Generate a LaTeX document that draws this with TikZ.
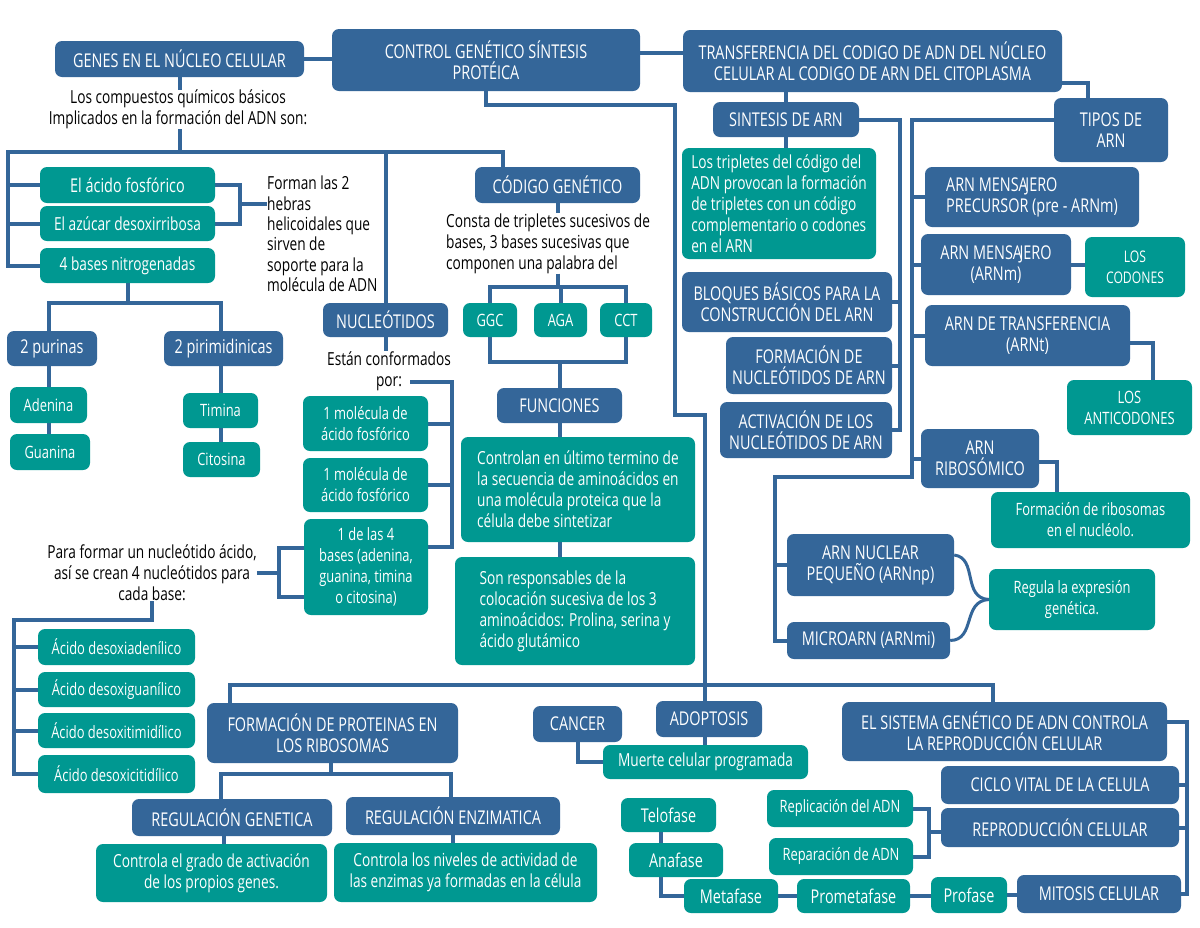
\documentclass[tikz,border=0pt]{standalone}
\usepackage{fontspec}
\setmainfont{Open Sans}[FakeStretch=0.76]
\usetikzlibrary{calc}
\definecolor{cblue}{RGB}{52,102,153}
\definecolor{cteal}{RGB}{0,152,145}
\pgfdeclarelayer{bg}
\pgfsetlayers{bg,main}
\newcommand\fs[1]{\fontsize{#1}{21}\selectfont}
\newcommand\bx[7]{\node[#2,minimum width={#5-#3},minimum height={#6-#4}] (#1) at ({(#3+#5)/2},{(#4+#6)/2}) {#7};}
\newcommand\mensajero{MENSA\kern-2.5pt JERO}
\tikzset{
  bb/.style={fill=cblue, rounded corners=7pt, text=white, align=center, inner sep=0pt, font=\fs{19}},
  tb/.style={fill=cteal, rounded corners=7pt, text=white, align=center, inner sep=0pt, font=\fs{18}},
  plain/.style={text=black, align=center, inner sep=0pt, font=\fs{18}},
  conn/.style={draw=cblue, line width=4pt, line join=miter}
}
\begin{document}
\begin{tikzpicture}[x=1pt,y=-1pt]
\useasboundingbox (0,0) rectangle (1200,927);

% ---------- blue boxes
\bx{genes}{bb}{55}{41}{304}{77}{GENES EN EL NÚCLEO CELULAR}
\bx{control}{bb}{332}{29}{640}{91}{CONTROL GENÉTICO SÍNTESIS\\PROTÉICA}
\bx{transf}{bb}{683}{30}{1062}{92}{TRANSFERENCIA DEL CODIGO DE ADN DEL NÚCLEO\\CELULAR AL CODIGO DE ARN DEL CITOPLASMA}
\bx{purinas}{bb}{7}{331}{97}{366}{2 purinas}
\bx{pirim}{bb}{164}{331}{283}{366}{2 pirimidinicas}
\bx{nucleo}{bb}{323}{303}{448}{337}{NUCLEÓTIDOS}
\bx{codigo}{bb}{475}{167}{640}{203}{CÓDIGO GENÉTICO}
\bx{funciones}{bb}{497}{388}{622}{423}{FUNCIONES}
\bx{sintesis}{bb}{713}{102}{859}{137}{SINTESIS DE ARN}
\bx{bloq}{bb}{682}{272}{892}{332}{BLOQUES BÁSICOS PARA LA\\CONSTRUCCIÓN DEL ARN}
\bx{formn}{bb}{726}{337}{892}{394}{FORMACIÓN DE\\NUCLEÓTIDOS DE ARN}
\bx{activ}{bb}{720}{402}{892}{458}{ACTIVACIÓN DE LOS\\NUCLEÓTIDOS DE ARN}
\bx{tipos}{bb}{1054}{98}{1168}{162}{TIPOS DE\\ARN}
\bx{prec}{bb,align=left}{925}{167}{1139}{227}{ARN \mensajero\\PRECURSOR (pre - ARNm)}
\bx{mens}{bb}{921}{234}{1071}{295}{ARN \mensajero\\(ARNm)}
\bx{trans}{bb}{925}{305}{1130}{366}{ARN DE TRANSFERENCIA\\(ARNt)}
\bx{ribo}{bb}{921}{429}{1039}{488}{ARN\\RIBOSÓMICO}
\bx{narn}{bb}{787}{534}{954}{596}{ARN NUCLEAR\\PEQUEÑO (ARNnp)}
\bx{micro}{bb}{787}{622}{950}{659}{MICROARN (ARNmi)}
\bx{formprot}{bb}{207}{703}{458}{763}{FORMACIÓN DE PROTEINAS EN\\LOS RIBOSOMAS}
\bx{regG}{bb}{132}{799}{332}{836}{REGULACIÓN GENETICA}
\bx{regE}{bb}{346}{797}{560}{835}{REGULACIÓN ENZIMATICA}
\bx{cancer}{bb}{533}{706}{622}{742}{CANCER}
\bx{adopt}{bb}{656}{701}{762}{737}{ADOPTOSIS}
\bx{sistema}{bb}{842}{702}{1167}{761}{EL SISTEMA GENÉTICO DE ADN CONTROLA\\LA REPRODUCCIÓN CELULAR}
\bx{ciclo}{bb}{941}{766}{1179}{804}{CICLO VITAL DE LA CELULA}
\bx{reprod}{bb}{941}{808}{1179}{847}{REPRODUCCIÓN CELULAR}
\bx{mitosis}{bb}{1017}{875}{1181}{913}{MITOSIS CELULAR}

% ---------- teal boxes
\bx{acido}{tb,font=\fs{19}}{40}{167}{215}{203}{El ácido fosfórico}
\bx{azucar}{tb}{40}{206}{215}{241}{El azúcar desoxirribosa}
\bx{bases4}{tb}{40}{248}{215}{283}{4 bases nitrogenadas}
\bx{adenina}{tb,font=\fs{17}}{10}{387}{87}{423}{Adenina}
\bx{guanina}{tb,font=\fs{17}}{10}{434}{90}{470}{Guanina}
\bx{timina}{tb,font=\fs{17}}{183}{393}{258}{428}{Timina}
\bx{citosina}{tb,font=\fs{17}}{183}{442}{260}{477}{Citosina}
\bx{mol1}{tb,font=\fs{17}}{303}{396}{428}{451}{1 molécula de\\ácido fosfórico}
\bx{mol2}{tb,font=\fs{17}}{303}{458}{428}{512}{1 molécula de\\ácido fosfórico}
\bx{bases1}{tb,font=\fs{17}}{304}{519}{428}{615}{1 de las 4\\bases (adenina,\\guanina, timina\\o citosina)}
\bx{ada}{tb,font=\fs{17}}{38}{629}{195}{665}{Ácido desoxiadenílico}
\bx{adg}{tb,font=\fs{17}}{38}{672}{195}{707}{Ácido desoxiguanílico}
\bx{adt}{tb,font=\fs{17}}{38}{713}{195}{748}{Ácido desoxitimidílico}
\bx{adci}{tb,font=\fs{17}}{38}{755}{195}{793}{Ácido desoxicitidílico}
\bx{ggc}{tb,font=\fs{17}}{463}{303}{517}{337}{GGC}
\bx{aga}{tb,font=\fs{17}}{534}{303}{587}{337}{AGA}
\bx{cct}{tb,font=\fs{17}}{600}{303}{652}{337}{CCT}
\bx{controlan}{tb,align=left}{461}{437}{695}{542}{Controlan en último termino de\\la secuencia de aminoácidos en\\una molécula proteica que la\\célula debe sintetizar}
\bx{son}{tb,align=left}{455}{557}{695}{665}{Son responsables de la\\colocación sucesiva de los 3\\aminoácidos: Prolina, serina y\\ácido glutámico}
\bx{tripl}{tb,align=left}{682}{148}{876}{259}{Los tripletes del código del\\ADN provocan la formación\\de tripletes con un código\\complementario o codones\\en el ARN}
\bx{codones}{tb,font=\fs{16}}{1085}{237}{1185}{297}{LOS\\CODONES}
\bx{anticod}{tb,font=\fs{17}}{1067}{380}{1192}{435}{LOS\\ANTICODONES}
\bx{formrib}{tb,font=\fs{17}}{991}{492}{1190}{548}{Formación de ribosomas\\en el nucléolo.}
\bx{regula}{tb,font=\fs{17}}{989}{569}{1155}{630}{Regula la expresión\\genética.}
\bx{ctlG}{tb}{96}{844}{327}{902}{Controla el grado de activación\\de los propios genes.}
\bx{ctlE}{tb}{334}{843}{597}{902}{Controla los niveles de actividad de\\las enzimas ya formadas en la célula}
\bx{muerte}{tb}{603}{745}{808}{779}{Muerte celular programada}
\bx{replic}{tb,font=\fs{17}}{767}{790}{913}{827}{Replicación del ADN}
\bx{repar}{tb,font=\fs{17}}{769}{838}{913}{875}{Reparación de ADN}
\bx{telo}{tb,font=\fs{19}}{621}{798}{716}{832}{Telofase}
\bx{ana}{tb,font=\fs{19}}{629}{843}{723}{877}{Anafase}
\bx{meta}{tb,font=\fs{19}}{684}{879}{778}{913}{Metafase}
\bx{prometa}{tb,font=\fs{19}}{797}{879}{910}{913}{Prometafase}
\bx{profase}{tb,font=\fs{19}}{931}{877}{1007}{913}{Profase}

% ---------- plain texts
\node[plain] (compuestos) at (178,109.5) {Los compuestos químicos básicos\\Implicados en la formación del ADN son:};
\node[plain, anchor=west, align=left, font=\fontsize{18}{20.4}\selectfont] (forman) at (267,234) {Forman las 2\\hebras\\helicoidales que\\sirven de\\soporte para la\\molécula de ADN};
\node[plain] (estan) at (389,371) {Están conformados\\por:};
\node[plain] (para) at (152,573) {Para formar un nucleótido ácido,\\así se crean 4 nucleótidos para\\cada base:};
\node[plain, anchor=west, align=left] (consta) at (446,243.5) {Consta de tripletes sucesivos de\\bases, 3 bases sucesivas que\\componen una palabra del};

% ---------- connectors
\begin{pgfonlayer}{bg}
\fill[white] (0,0) rectangle (1200,927);
\draw[conn] (genes.east) -- (control.west |- genes.east);
\draw[conn] (control.east |- 0,53) -- (transf.west |- 0,53);
\draw[conn] (genes.south) -- (genes.south |- compuestos.north);
\coordinate (barL) at (8,152);
\coordinate (barR) at (503,152);
\draw[conn] (compuestos.south -| genes.south) -- (genes.south |- barL);
\draw[conn] (bases4.west) -| (barL) -- (barR) -- (barR |- codigo.north);
\draw[conn] (acido.west) -- (acido.west -| barL);
\draw[conn] (azucar.west) -- (azucar.west -| barL);
\draw[conn] (nucleo.north |- barL) -- (nucleo.north);
\coordinate (fk) at (240,204);
\draw[conn] (acido.east) -| (fk) |- (azucar.east);
\draw[conn] (fk) -- (forman.west |- fk);
\coordinate (b4) at (132,303);
\draw[conn] (bases4.south) -- (bases4.south |- b4);
\draw[conn] (adenina.north |- purinas.north) |- (b4) -| (timina.north |- pirim.north);
\draw[conn] (adenina.north |- purinas.south) -- (adenina.north);
\draw[conn] (adenina.south) -- (adenina.south |- guanina.north);
\draw[conn] (timina.north |- pirim.south) -- (timina.north);
\draw[conn] (timina.south) -- (timina.south |- citosina.north);
\draw[conn] (nucleo.south) -- (nucleo.south |- estan.north);
\coordinate (porR) at (410,382);
\coordinate (nb) at (452,382);
\draw[conn] (porR) -- (nb) -- (nb |- 0,547) -- (bases1.east |- 0,547);
\draw[conn] (mol1.east) -- (mol1.east -| nb);
\draw[conn] (mol2.east) -- (mol2.east -| nb);
\coordinate (pb) at (279,573);
\draw[conn] (para.east |- pb) -- (pb);
\draw[conn] (bases1.west |- 0,548) -| (pb) |- (bases1.west |- 0,597);
\coordinate (pl) at (14,620);
\draw[conn] (para.south) |- (pl) |- (adci.west);
\draw[conn] (ada.west) -- (ada.west -| pl);
\draw[conn] (adg.west) -- (adg.west -| pl);
\draw[conn] (adt.west) -- (adt.west -| pl);
\draw[conn] (codigo.south) -- (codigo.south |- consta.north);
\coordinate (cb) at (556,287);
\draw[conn] (consta.south -| codigo.south) -- (codigo.south |- cb);
\draw[conn] (ggc.north) |- (cb) -| (cct.north);
\draw[conn] (aga.north |- cb) -- (aga.north);
\coordinate (fb) at (560,362);
\draw[conn] (ggc.south) |- (fb) -| (cct.south);
\draw[conn] (funciones.north |- fb) -- (funciones.north);
\draw[conn] (funciones.south) -- (funciones.south |- controlan.north);
\draw[conn] (funciones.south |- controlan.south) -- (funciones.south |- son.north);
\coordinate (v1) at (675,105);
\coordinate (v2) at (675,415);
\coordinate (v3) at (705,415);
\draw[conn] (control.south) |- (v1) -- (v2) -- (v3) -- (v3 |- adopt.north);
\coordinate (mbL) at (230,685);
\coordinate (mbR) at (993,685);
\draw[conn] (mbL |- formprot.north) -- (mbL) -- (mbR) -- (mbR |- sistema.north);
\draw[conn] (v3 |- adopt.south) -- (v3 |- muerte.north);
\draw[conn] (cancer.south) |- (muerte.west);
\coordinate (fpb) at (331,774);
\draw[conn] (formprot.south -| fpb) -- (fpb);
\draw[conn] (regG.north -| 221,0) |- (fpb) -| (regE.north -| 451,0);
\draw[conn] (regG.south -| 224,0) -- (ctlG.north -| 224,0);
\draw[conn] (regE.south) -- (regE.south |- ctlE.north);
\coordinate (sb) at (1187,722);
\draw[conn] (sistema.east |- sb) -- (sb) |- (mitosis.east);
\draw[conn] (ciclo.east) -- (ciclo.east -| sb);
\draw[conn] (reprod.east) -- (reprod.east -| sb);
\coordinate (rb) at (929,832);
\draw[conn] (replic.east) -| (rb) |- (repar.east);
\draw[conn] (rb) -- (rb -| reprod.west);
\coordinate (tv) at (661,896);
\draw[conn] (tv |- telo.south) -- (tv |- ana.north);
\draw[conn] (tv |- ana.south) |- (meta.west);
\draw[conn] (meta.east) -- (prometa.west);
\draw[conn] (prometa.east) -- (profase.west |- prometa.east);
\draw[conn] (profase.east) -- (mitosis.west |- profase.east);
\draw[conn] (sintesis.north |- transf.south) -- (sintesis.north);
\coordinate (tt) at (1088,83);
\draw[conn] (transf.east |- tt) -- (tt) -- (tt |- tipos.north);
\draw[conn] (sintesis.south) -- (sintesis.south |- tripl.north);
\coordinate (sr) at (900,120);
\draw[conn] (sintesis.east |- sr) -- (sr) |- (activ.east);
\draw[conn] (bloq.east) -- (bloq.east -| sr);
\draw[conn] (formn.east) -- (formn.east -| sr);
\coordinate (tl) at (912,120);
\coordinate (tl2) at (912,477);
\coordinate (tl3) at (775,477);
\draw[conn] (tipos.west |- tl) -- (tl) -- (tl2) -- (tl3) |- (micro.west);
\draw[conn] (prec.west) -- (prec.west -| tl);
\draw[conn] (mens.west) -- (mens.west -| tl);
\draw[conn] (trans.west) -- (trans.west -| tl);
\draw[conn] (ribo.west) -- (ribo.west -| tl);
\draw[conn] (narn.west) -- (narn.west -| tl3);
\draw[conn] (mens.east) -- (mens.east -| codones.west);
\coordinate (ta) at (1153,343);
\draw[conn] (trans.east |- ta) -- (ta) -- (ta |- anticod.north);
\coordinate (rf) at (1057,462);
\draw[conn] (ribo.east |- rf) -- (rf) -- (rf |- formrib.north);
\draw[conn, line width=3pt] (narn.east |- 0,555) .. controls (978,558) and (962,598) .. (regula.west);
\draw[conn, line width=3pt] (micro.east) .. controls (976,640) and (962,601) .. (regula.west);
\end{pgfonlayer}
\end{tikzpicture}
\end{document}
